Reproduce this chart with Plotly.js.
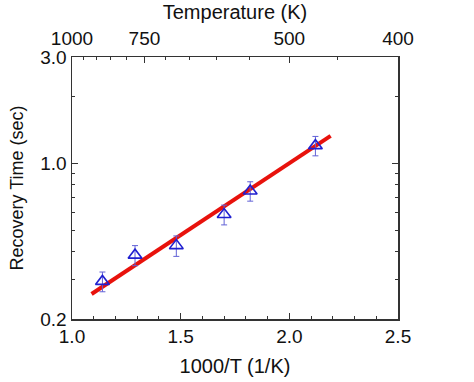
<!DOCTYPE html>
<html>
<head>
<meta charset="utf-8">
<script src="https://cdn.plot.ly/plotly-3.0.1.min.js"></script>
<style>html,body{margin:0;padding:0;background:#fff;}#chart{width:474px;height:382px;}</style>
</head>
<body>
<div id="chart"></div>
<script>
// Measured data (1000/T in 1/K, recovery time in sec)
var invT = [1.14, 1.29, 1.48, 1.70, 1.82, 2.12];
var recoveryTime = [0.295, 0.387, 0.427, 0.589, 0.751, 1.20];
var recoveryErr = [0.03, 0.04, 0.045, 0.06, 0.075, 0.12];

// Linear (Arrhenius) fit line
var fitX = [1.09, 2.19];
var fitY = [0.259, 1.327];

// Top axis: temperature labels
var tempMajor = [1000, 750, 500, 400];
var tempMinor = [950, 900, 850, 800, 700, 650, 600, 550, 450];

// Left axis labels
var yTickVals = [0.2, 1, 3];
var yTickText = ['0.2', '1.0', '3.0'];
var yMinorVals = [0.3, 0.4, 0.5, 0.6, 0.7, 0.8, 0.9, 2];

var FONT = 'Liberation Sans, Arial, sans-serif';
var AX = '#333';

var traces = [
  {
    x: fitX, y: fitY, mode: 'lines', type: 'scatter',
    line: {color: '#e8120c', width: 4}, hoverinfo: 'skip', showlegend: false
  },
  {
    x: invT, y: recoveryTime, mode: 'markers', type: 'scatter',
    marker: {symbol: 'triangle-up-open', size: 12, color: '#2020d0', line: {width: 1.6, color: '#2020d0'}},
    error_y: {type: 'data', array: recoveryErr, visible: true, color: '#6262d6', thickness: 1, width: 3},
    showlegend: false
  },
  {
    x: [1.5], y: [null], xaxis: 'x2', mode: 'markers', type: 'scatter',
    showlegend: false, hoverinfo: 'skip'
  }
];

var layout = {
  width: 474, height: 382,
  margin: {l: 72, r: 76, t: 57, b: 63},
  paper_bgcolor: '#fff', plot_bgcolor: '#fff',
  font: {family: FONT, size: 19, color: '#111'},
  showlegend: false,
  xaxis: {
    range: [1.0, 2.5], dtick: 0.5, tick0: 1.0, tickformat: '.1f',
    showgrid: false, zeroline: false,
    showline: true, linecolor: AX, linewidth: 1.5, mirror: true,
    ticks: 'inside', ticklen: 6, tickwidth: 1.2, tickcolor: AX,
    minor: {dtick: 0.1, tick0: 1.0, ticks: 'inside', ticklen: 3, tickwidth: 1, tickcolor: AX, showgrid: false},
    tickfont: {size: 19, family: FONT},
    title: {text: '1000/T (1/K)', font: {size: 20, family: FONT}, standoff: 12}
  },
  xaxis2: {
    overlaying: 'x', side: 'top', anchor: 'y',
    range: [1.0, 2.5],
    tickmode: 'array',
    tickvals: tempMajor.map(function (t) { return 1000 / t; }),
    ticktext: tempMajor.map(String),
    showgrid: false, zeroline: false,
    showline: true, linecolor: AX, linewidth: 1.5,
    ticks: 'inside', ticklen: 6, tickwidth: 1.2, tickcolor: AX,
    ticklabelstandoff: 3,
    minor: {tickmode: 'array', tickvals: tempMinor.map(function (t) { return 1000 / t; }),
            ticks: 'inside', ticklen: 3, tickwidth: 1, tickcolor: AX, showgrid: false},
    tickfont: {size: 19, family: FONT},
    title: {text: 'Temperature (K)', font: {size: 20, family: FONT}, standoff: 3}
  },
  yaxis: {
    type: 'log',
    range: [Math.log10(0.2), Math.log10(3)],
    tickmode: 'array', tickvals: yTickVals, ticktext: yTickText,
    showgrid: false, zeroline: false,
    showline: true, linecolor: AX, linewidth: 1.5, mirror: 'ticks',
    ticks: 'inside', ticklen: 6, tickwidth: 1.2, tickcolor: AX,
    minor: {tickmode: 'array', tickvals: yMinorVals, ticks: 'inside', ticklen: 3, tickwidth: 1, tickcolor: AX, showgrid: false},
    tickfont: {size: 19, family: FONT},
    title: {text: 'Recovery Time (sec)', font: {size: 18, family: FONT}, standoff: 12}
  }
};

Plotly.newPlot('chart', traces, layout, {displayModeBar: false, staticPlot: true});
</script>
</body>
</html>
